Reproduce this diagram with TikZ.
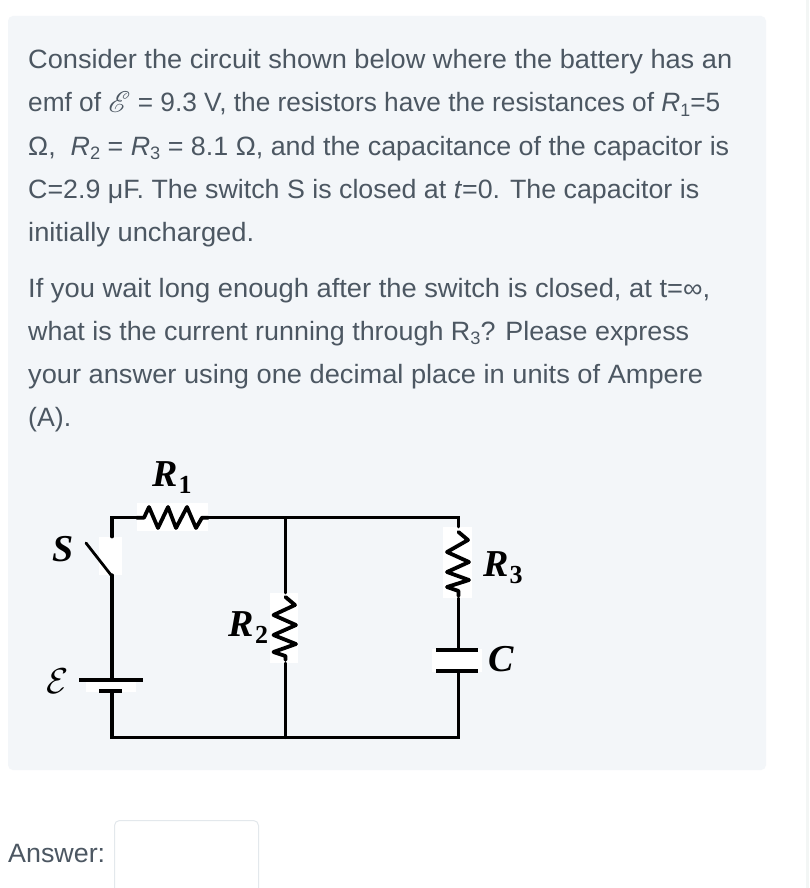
\documentclass[tikz,border=0pt]{standalone}
\usepackage{fontspec}
\usepackage{graphicx}
\usepackage{mathrsfs}
\setmainfont{Liberation Sans}
\newfontfamily\lblfont{Liberation Serif}
\definecolor{paneltone}{HTML}{F3F6F9}
\definecolor{texttone}{HTML}{4C5762}
\definecolor{boxtone}{HTML}{E3E8EC}
\definecolor{stripetone}{HTML}{F3F6F5}
\newcommand{\fitline}[2]{\resizebox{#1pt}{\height}{#2}}
\newcommand{\subnum}[1]{\raisebox{-4.5pt}{\fontsize{18}{18}\selectfont #1}}
\newcommand{\itR}{\textit{R}}
\newcommand{\txtE}{\raisebox{-.5pt}{\scalebox{1.2}{$\mathscr{E}$}}}
\newcommand{\lblR}[1]{{\lblfont\bfseries\itshape\fontsize{38}{38}\selectfont R\kern1pt\raisebox{-7pt}{\upshape\fontsize{26}{26}\selectfont #1}}}
\tikzset{
  textline/.style={anchor=base west,inner sep=0pt,text=texttone,font=\fontsize{26.5}{30}\selectfont},
  wire/.style={draw=black,line width=3.2pt,line cap=round,line join=miter},
  zigzag/.style={draw=black,line width=3.8pt,line join=round,line cap=round},
  plate/.style={draw=black,line width=4.2pt},
  patch/.style={fill=white,draw=none,inner sep=0pt,minimum width=#1},
  circlabel/.style={inner sep=0pt,text=black}
}
\begin{document}
\begin{tikzpicture}[x=1pt,y=-1pt]
\useasboundingbox (0,0) rectangle (809,888);
\fill[white] (0,0) rectangle (809,888);
\fill[stripetone] (806,0) rectangle (809,888);
\fill[paneltone,rounded corners=5pt] (8,16) rectangle (766,770);

% text
\node[textline] (l1) at (28,69) {\fitline{704}{Consider the circuit shown below where the battery has an}};
\node[textline] (l2) at (28,112) {\fitline{692}{emf of \txtE{} = 9.3 V, the resistors have the resistances of \itR\subnum{1}=5}};
\node[textline] (l3) at (28,155) {\fitline{701}{Ω,\ \ \itR\subnum{2} = \itR\subnum{3} = 8.1 Ω, and the capacitance of the capacitor is}};
\node[textline] (l4) at (28,198) {\fitline{671}{C=2.9 μF. The switch S is closed at \textit{t}=0. The capacitor is}};
\node[textline] (l5) at (28,241) {\fitline{226}{initially uncharged.}};
\node[textline] (l6) at (28,297) {\fitline{682}{If you wait long enough after the switch is closed, at t=∞,}};
\node[textline] (l7) at (28,340) {\fitline{661}{what is the current running through R\subnum{3}? Please express}};
\node[textline] (l8) at (28,383) {\fitline{675}{your answer using one decimal place in units of Ampere}};
\node[textline] (l9) at (28,426) {\fitline{43}{(A).}};
\node[textline] (ans) at (8,862) {\fitline{97}{Answer:}};
\draw[boxtone,line width=1pt,rounded corners=5pt] (114.5,900) -- (114.5,820.5) -- (258.5,820.5) -- (258.5,900);

% junctions
\coordinate (tl) at (112,517.7);
\coordinate (tm) at (285.5,517.7);
\coordinate (tr) at (458.5,517.7);
\coordinate (bl) at (112,737.5);
\coordinate (bm) at (285.5,737.5);
\coordinate (br) at (458.5,737.5);
\coordinate (swpivot) at (111,575);
\coordinate (swtip) at (86,543);

% white patches
\node[patch=71pt,minimum height=28pt] (r1) at (172.5,517) {};
\node[patch=23pt,minimum height=38pt] (sw) at (110.5,556) {};
\node[patch=50pt,minimum height=12pt] (batgap) at (111,686) {};
\node[patch=28pt,minimum height=70pt] (r2) at (284,628) {};
\node[patch=29pt,minimum height=71pt] (r3) at (457.5,562.5) {};
\node[patch=50pt,minimum height=23pt] (cap) at (457,660.5) {};

% wires
\draw[wire] (sw.north -| tl) -- (tl) -- (r1.west |- tl);
\draw[wire] (r1.east |- tl) -- (tm) -- (tr) -- (r3.north -| tr);
\draw[wire] (swpivot -| tl) -- (batgap.north -| tl);
\draw[wire] (batgap.south -| bl) -- (bl) -- (bm) -- (br) -- (cap.south -| br);
\draw[wire] (tm) -- (r2.north -| tm);
\draw[wire] (r2.south -| bm) -- (bm);
\draw[wire] (r3.south -| tr) -- (cap.north -| tr);
\draw[wire,line width=2.8pt] (swtip) -- (swpivot);

% battery and capacitor plates
\draw[plate] (79,680) -- (143,680);
\draw[plate] (99,690.7) -- (122,690.7);
\draw[plate] (436,650) -- (478,650);
\draw[plate] (436,670.7) -- (478,670.7);

% resistors
\draw[zigzag] (r1.west |- tl) -- (144,517.7) -- (149,507) -- (158,528) -- (168,507) -- (176,528) -- (187,507) -- (196,528) -- (202,517.7) -- (r1.east |- tl);
\draw[zigzag] (285.5,597) -- (295,605) -- (273.5,615) -- (296,625) -- (273.5,635) -- (296,644) -- (273.5,652) -- (285.5,656) -- (285.5,660);
\draw[zigzag] (458.5,532) -- (468,540) -- (447,552) -- (469,562) -- (447,572) -- (469,580) -- (447,587) -- (458.5,591) -- (458.5,596);

% labels
\node[circlabel] (lr1) at (172,477.5) {\lblR{1}};
\node[circlabel] (ls) at (63,549) {\lblfont\bfseries\itshape\fontsize{38}{38}\selectfont S};
\node[circlabel] (le) at (58,681) {\scalebox{3.6}{$\mathcal{E}$}};
\node[circlabel] (lr2) at (248.5,628) {\lblR{2}};
\node[circlabel] (lr3) at (503,568) {\lblR{3}};
\node[circlabel] (lc) at (501,659) {\lblfont\bfseries\itshape\fontsize{38}{38}\selectfont C};
\end{tikzpicture}
\end{document}
